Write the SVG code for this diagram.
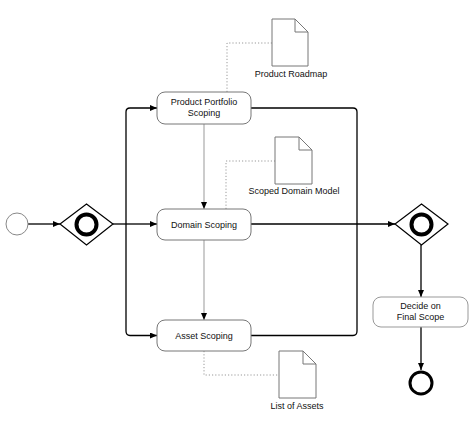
<svg xmlns="http://www.w3.org/2000/svg" width="474" height="432" viewBox="0 0 474 432">
<defs>
<marker id="arr" markerWidth="7" markerHeight="6" refX="7" refY="3" orient="auto" markerUnits="userSpaceOnUse">
<path d="M0,0 L7,3 L0,6 Z" fill="#000"/>
</marker>
<style>
.task rect{fill:#fff;stroke:#777;stroke-width:1}
.lbl{font-family:"Liberation Sans",Arial,sans-serif;font-size:9px;fill:#111;text-anchor:middle}
.flow{fill:none;stroke:#000;stroke-width:1.3}
.flowg{fill:none;stroke:#999;stroke-width:1}
.assoc{fill:none;stroke:#999;stroke-width:1;stroke-dasharray:1.2,2}
.doc path{fill:#fff;stroke:#777;stroke-width:1}
.gw polygon{fill:#fff;stroke:#000;stroke-width:1.2}
.gw circle{fill:none;stroke:#000;stroke-width:4}
</style>
</defs>
<rect width="474" height="432" fill="#fff"/>
<g id="connectors">
<path class="flow" d="M28,224 H60" marker-end="url(#arr)"/>
<path class="flow" d="M113,224 H126"/>
<path class="flow" d="M126,224 V112 Q126,108 130,108 H157" marker-end="url(#arr)"/>
<path class="flow" d="M126,224 H157" marker-end="url(#arr)"/>
<path class="flow" d="M126,224 V331 Q126,335.5 130,335.5 H157" marker-end="url(#arr)"/>
<path class="flow" d="M251,108 H353 Q357,108 357,112 V224"/>
<path class="flow" d="M251,335.5 H353 Q357,335.5 357,331 V224"/>
<path class="flow" d="M251,224 H395" marker-end="url(#arr)"/>
<path class="flowg" d="M204,124 V209" marker-end="url(#arr)"/>
<path class="flowg" d="M204,240 V320" marker-end="url(#arr)"/>
<path class="flow" d="M421,245 V297" marker-end="url(#arr)"/>
<path class="flow" d="M421,327 V370" marker-end="url(#arr)"/>
<path class="assoc" d="M227,92 V43 H272"/>
<path class="assoc" d="M226,209 V161 H275"/>
<path class="assoc" d="M204,351 V375 H279"/>
</g>
<g id="start"><circle cx="17" cy="224" r="11" fill="#fff" stroke="#888" stroke-width="1"/></g>
<g id="gateway1" class="gw"><polygon points="86.5,204 113,224 86.5,245 60,224"/><circle cx="86.5" cy="224.5" r="10"/></g>
<g id="task-portfolio" class="task"><rect x="157" y="92" width="94" height="32" rx="8"/><text class="lbl" x="204" y="105">Product Portfolio</text><text class="lbl" x="204" y="116">Scoping</text></g>
<g id="task-domain" class="task"><rect x="157" y="209" width="94" height="31" rx="8"/><text class="lbl" x="204" y="228">Domain Scoping</text></g>
<g id="task-asset" class="task"><rect x="157" y="320" width="94" height="31" rx="8"/><text class="lbl" x="204" y="339">Asset Scoping</text></g>
<g id="gateway2" class="gw"><polygon points="421.5,204 448,224 421.5,245 395,224"/><circle cx="421.5" cy="224.5" r="10"/></g>
<g id="task-decide" class="task"><rect x="373" y="297" width="95" height="30" rx="8" style="stroke:#999"/><text class="lbl" x="420.5" y="309">Decide on</text><text class="lbl" x="420.5" y="320">Final Scope</text></g>
<g id="end"><circle cx="421" cy="383" r="11" fill="#fff" stroke="#000" stroke-width="3"/></g>
<g id="doc-roadmap" class="doc"><path d="M272,19 H295 L308,32 V66 H272 Z M295,19 V32 H308"/><text class="lbl" x="291" y="77">Product Roadmap</text></g>
<g id="doc-domain-model" class="doc"><path d="M275,137 H299 L312,150 V184 H275 Z M299,137 V150 H312"/><text class="lbl" x="294" y="194">Scoped Domain Model</text></g>
<g id="doc-assets" class="doc"><path d="M279,351 H303 L316,364 V398 H279 Z M303,351 V364 H316"/><text class="lbl" x="297" y="409">List of Assets</text></g>
</svg>
